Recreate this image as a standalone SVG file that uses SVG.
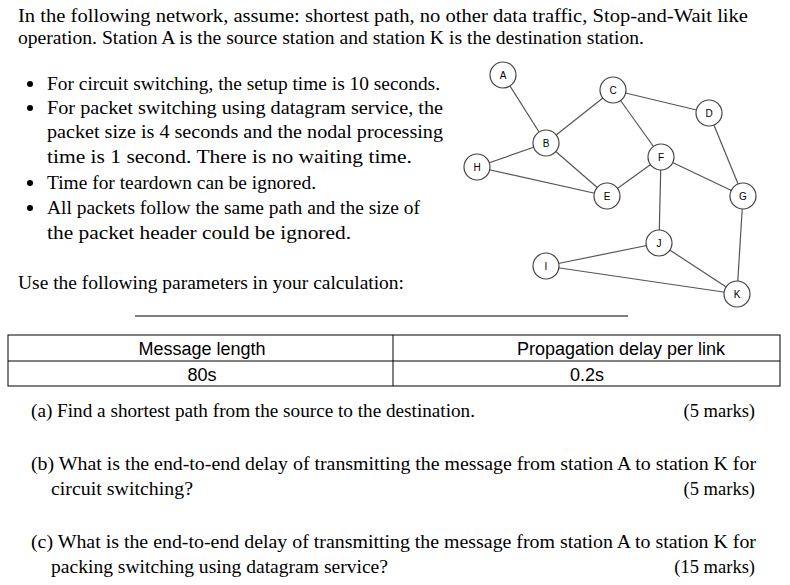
<svg xmlns="http://www.w3.org/2000/svg" width="790" height="585" viewBox="0 0 790 585">
<style>
.t{font-family:"Liberation Serif",serif;font-size:18.5px;fill:#000}
.s{font-family:"Liberation Sans",sans-serif;font-size:18px;fill:#000}
.n circle{fill:#fff;stroke:#444;stroke-width:1.2}
.n text{font-family:"Liberation Sans",sans-serif;font-size:10px;text-anchor:middle;fill:#000}
#edges line{stroke:#555;stroke-width:1.2}
</style>
<rect width="790" height="585" fill="#fff"/>
<g class="t">
<text x="18" y="22" textLength="730" lengthAdjust="spacingAndGlyphs">In the following network, assume: shortest path, no other data traffic, Stop-and-Wait like</text>
<text x="18" y="44" textLength="626" lengthAdjust="spacingAndGlyphs">operation.  Station A is the source station and station K is the destination station.</text>
<circle cx="30" cy="84" r="3"/><text x="47" y="90" textLength="393" lengthAdjust="spacingAndGlyphs">For circuit switching, the setup time is 10 seconds.</text>
<circle cx="30" cy="108" r="3"/><text x="47" y="114" textLength="396" lengthAdjust="spacingAndGlyphs">For packet switching using datagram service, the</text>
<text x="47" y="138" textLength="396" lengthAdjust="spacingAndGlyphs">packet size is 4 seconds and the nodal processing</text>
<text x="47" y="163" textLength="365" lengthAdjust="spacingAndGlyphs">time is 1 second.  There is no waiting time.</text>
<circle cx="30" cy="183" r="3"/><text x="47" y="189" textLength="269" lengthAdjust="spacingAndGlyphs">Time for teardown can be ignored.</text>
<circle cx="30" cy="208" r="3"/><text x="47" y="214" textLength="373" lengthAdjust="spacingAndGlyphs">All packets follow the same path and the size of</text>
<text x="47" y="239" textLength="304" lengthAdjust="spacingAndGlyphs">the packet header could be ignored.</text>
<text x="18" y="289" textLength="386" lengthAdjust="spacingAndGlyphs">Use the following parameters in your calculation:</text>
</g>
<line x1="135" y1="316" x2="628" y2="316" stroke="#000" stroke-width="1"/>
<g id="edges">
<line x1="503" y1="75" x2="546" y2="143"/>
<line x1="546" y1="143" x2="613" y2="90"/>
<line x1="546" y1="143" x2="477" y2="167"/>
<line x1="546" y1="143" x2="607" y2="196"/>
<line x1="477" y1="167" x2="607" y2="196"/>
<line x1="613" y1="90" x2="709" y2="113"/>
<line x1="613" y1="90" x2="661" y2="157"/>
<line x1="709" y1="113" x2="743" y2="196"/>
<line x1="661" y1="157" x2="607" y2="196"/>
<line x1="661" y1="157" x2="743" y2="196"/>
<line x1="661" y1="157" x2="659" y2="243"/>
<line x1="743" y1="196" x2="737" y2="294"/>
<line x1="659" y1="243" x2="546" y2="266"/>
<line x1="659" y1="243" x2="737" y2="294"/>
<line x1="546" y1="266" x2="737" y2="294"/>
</g>
<g id="A" class="n"><circle cx="503" cy="75" r="13"/><text x="503" y="79">A</text></g>
<g id="B" class="n"><circle cx="546" cy="143" r="13"/><text x="546" y="147">B</text></g>
<g id="C" class="n"><circle cx="613" cy="90" r="13"/><text x="613" y="94">C</text></g>
<g id="D" class="n"><circle cx="709" cy="113" r="13"/><text x="709" y="117">D</text></g>
<g id="E" class="n"><circle cx="607" cy="196" r="13"/><text x="607" y="200">E</text></g>
<g id="F" class="n"><circle cx="661" cy="157" r="13"/><text x="661" y="161">F</text></g>
<g id="G" class="n"><circle cx="743" cy="196" r="13"/><text x="743" y="200">G</text></g>
<g id="H" class="n"><circle cx="477" cy="167" r="13"/><text x="477" y="171">H</text></g>
<g id="I" class="n"><circle cx="546" cy="266" r="13"/><text x="546" y="270">I</text></g>
<g id="J" class="n"><circle cx="659" cy="243" r="13"/><text x="659" y="247">J</text></g>
<g id="K" class="n"><circle cx="737" cy="294" r="13"/><text x="737" y="298">K</text></g>
<g fill="none" stroke="#000" stroke-width="1">
<rect x="8" y="335" width="772" height="51"/>
<line x1="8" y1="361" x2="780" y2="361"/>
<line x1="393" y1="335" x2="393" y2="386"/>
</g>
<text class="s" x="202" y="355" text-anchor="middle">Message length</text>
<text class="s" x="202" y="381" text-anchor="middle">80s</text>
<text class="s" x="621" y="355" text-anchor="middle">Propagation delay per link</text>
<text class="s" x="587" y="381" text-anchor="middle">0.2s</text>
<g class="t">
<text x="31" y="417" textLength="444" lengthAdjust="spacingAndGlyphs">(a) Find a shortest path from the source to the destination.</text>
<text x="755" y="417" text-anchor="end">(5 marks)</text>
<text x="31" y="470" textLength="725" lengthAdjust="spacingAndGlyphs">(b) What is the end-to-end delay of transmitting the message from station A to station K for</text>
<text x="51" y="495" textLength="142" lengthAdjust="spacingAndGlyphs">circuit switching?</text>
<text x="755" y="495" text-anchor="end">(5 marks)</text>
<text x="31" y="548" textLength="725" lengthAdjust="spacingAndGlyphs">(c) What is the end-to-end delay of transmitting the message from station A to station K for</text>
<text x="51" y="573" textLength="337" lengthAdjust="spacingAndGlyphs">packing switching using datagram service?</text>
<text x="755" y="573" text-anchor="end">(15 marks)</text>
</g>
</svg>
